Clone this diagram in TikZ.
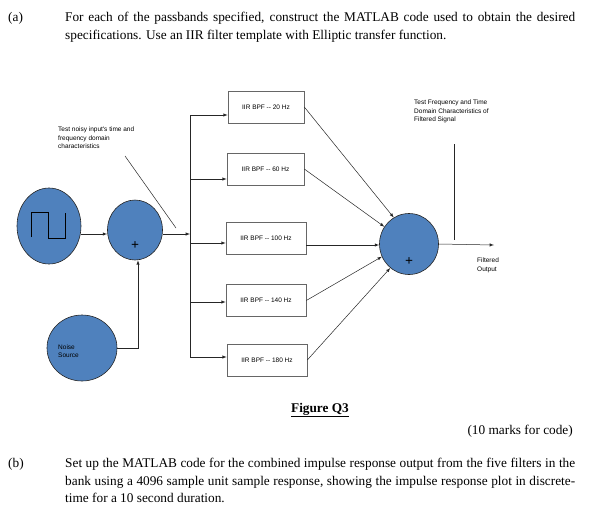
\documentclass[tikz,border=0pt]{standalone}
\usetikzlibrary{shapes.geometric}
\usepackage{fontspec}
\setmainfont{Liberation Serif}
\newfontfamily\dsans{Liberation Sans}
\begin{document}
\begin{tikzpicture}[x=1pt,y=-1pt,
  blob/.style={ellipse,draw=black!85,fill={rgb,255:red,79;green,129;blue,189},line width=0.6pt,inner sep=0},
  box/.style={draw=black!60,line width=0.6pt,minimum height=32pt,font=\dsans\fontsize{6.5}{8}\selectfont},
  lab/.style={font=\dsans\fontsize{6.5}{8.5}\selectfont,align=left,inner sep=0},
  arr/.style={-latex,line width=0.5pt,black!85},
  ln/.style={line width=0.5pt,black!85},
  para/.style={font=\fontsize{13.3}{17.6}\selectfont,text width=510pt,align=justify,inner sep=0,anchor=north west}]
\useasboundingbox (0,0) rectangle (601,530);
\node[anchor=north west,inner sep=0,font=\fontsize{13.3}{17.6}\selectfont] (la) at (8,12) {(a)};
\node[para] (pa) at (65,12) {For each of the passbands specified, construct the MATLAB code used to obtain the desired specifications. Use an IIR filter template with Elliptic transfer function.};
% circles
\node[blob,minimum width=64pt,minimum height=76pt] (sq) at (49,226) {};
\node[blob,minimum width=55pt,minimum height=60pt] (ad) at (135,230) {};
\node[blob,minimum width=70pt,minimum height=66pt] (ns) at (82,348) {};
\node[lab,anchor=west] (nsl) at (58,351) {Noise\\Source};
\node[blob,minimum width=59pt,minimum height=61pt] (out) at (409,244) {};
\node[font=\fontsize{14}{14}\selectfont\bfseries,inner sep=0] (p1) at (135,246) {+};
\node[font=\fontsize{14}{14}\selectfont\bfseries,inner sep=0] (p2) at (409,262) {+};
\draw[line width=0.8pt] (31,237) -- (31,212) -- (48,212) -- (48,238) -- (65,238) -- (65,213);
% boxes
\node[box,minimum width=76pt] (b1) at (266,107) {IIR BPF -- 20 Hz};
\node[box,minimum width=77pt] (b2) at (265.5,169) {IIR BPF -- 60 Hz};
\node[box,minimum width=80pt] (b3) at (266,238) {IIR BPF -- 100 Hz};
\node[box,minimum width=80pt] (b4) at (266,300.5) {IIR BPF -- 140 Hz};
\node[box,minimum width=80pt] (b5) at (267,360) {IIR BPF -- 180 Hz};
% bus
\coordinate (bt) at (190,115);
\coordinate (bb) at (190,357);
\coordinate (bm) at (190,234);
\draw[ln] (bt) -- (bb);
\draw[arr] (sq.east |- 0,234) -- (ad.west |- 0,234);
\draw[arr] (ad.east |- 0,234) -- (bm);
\draw[arr] (bt) -- (b1.west |- bt);
\draw[arr] (190,179) -- (b2.west |- 0,179);
\draw[arr] (190,243) -- (b3.west |- 0,243);
\draw[arr] (190,302) -- (b4.west |- 0,302);
\draw[arr] (bb) -- (b5.west |- bb);
\draw[arr] (ns.east) -- (138,348) -- (ad.south -| 138,0);
% filter outputs
\draw[arr] (b1.east) -- (out.120);
\draw[arr] (b2.east) -- (out.145);
\draw[arr] (b3.east |- 0,245) -- (out.west |- 0,245);
\draw[arr] (b4.east) -- (out.205);
\draw[arr] (b5.east) -- (out.232);
\coordinate (oe) at (494,245);
\draw[arr] (out.east) -- (oe);
\node[lab,anchor=north west] (fo) at (477,258) {Filtered\\Output};
% annotations
\node[lab,anchor=north west] (t1) at (58,127) {Test noisy input's time and\\frequency domain\\characteristics};
\coordinate (a1) at (125,156);
\coordinate (a2) at (176,228);
\draw[ln] (a1) -- (a2);
\node[lab,anchor=north west] (t2) at (414,100) {Test Frequency and Time\\Domain Characteristics of\\Filtered Signal};
\coordinate (v1) at (454,144);
\coordinate (v2) at (454,240);
\draw[ln,line width=0.7pt] (v1) -- (v2);
% bottom text
\node[font=\fontsize{13.3}{16}\selectfont\bfseries,inner sep=0] (fig) at (320,410) {\underline{Figure Q3}};
\node[anchor=east,inner sep=0,font=\fontsize{13.3}{16}\selectfont] (mk) at (573,431) {(10 marks for code)};
\node[anchor=north west,inner sep=0,font=\fontsize{13.3}{17.6}\selectfont] (lb) at (8,458) {(b)};
\node[para] (pb) at (65,458) {Set up the MATLAB code for the combined impulse response output from the five filters in the bank using a 4096 sample unit sample response, showing the impulse response plot in discrete-time for a 10 second duration.};
\end{tikzpicture}
\end{document}
